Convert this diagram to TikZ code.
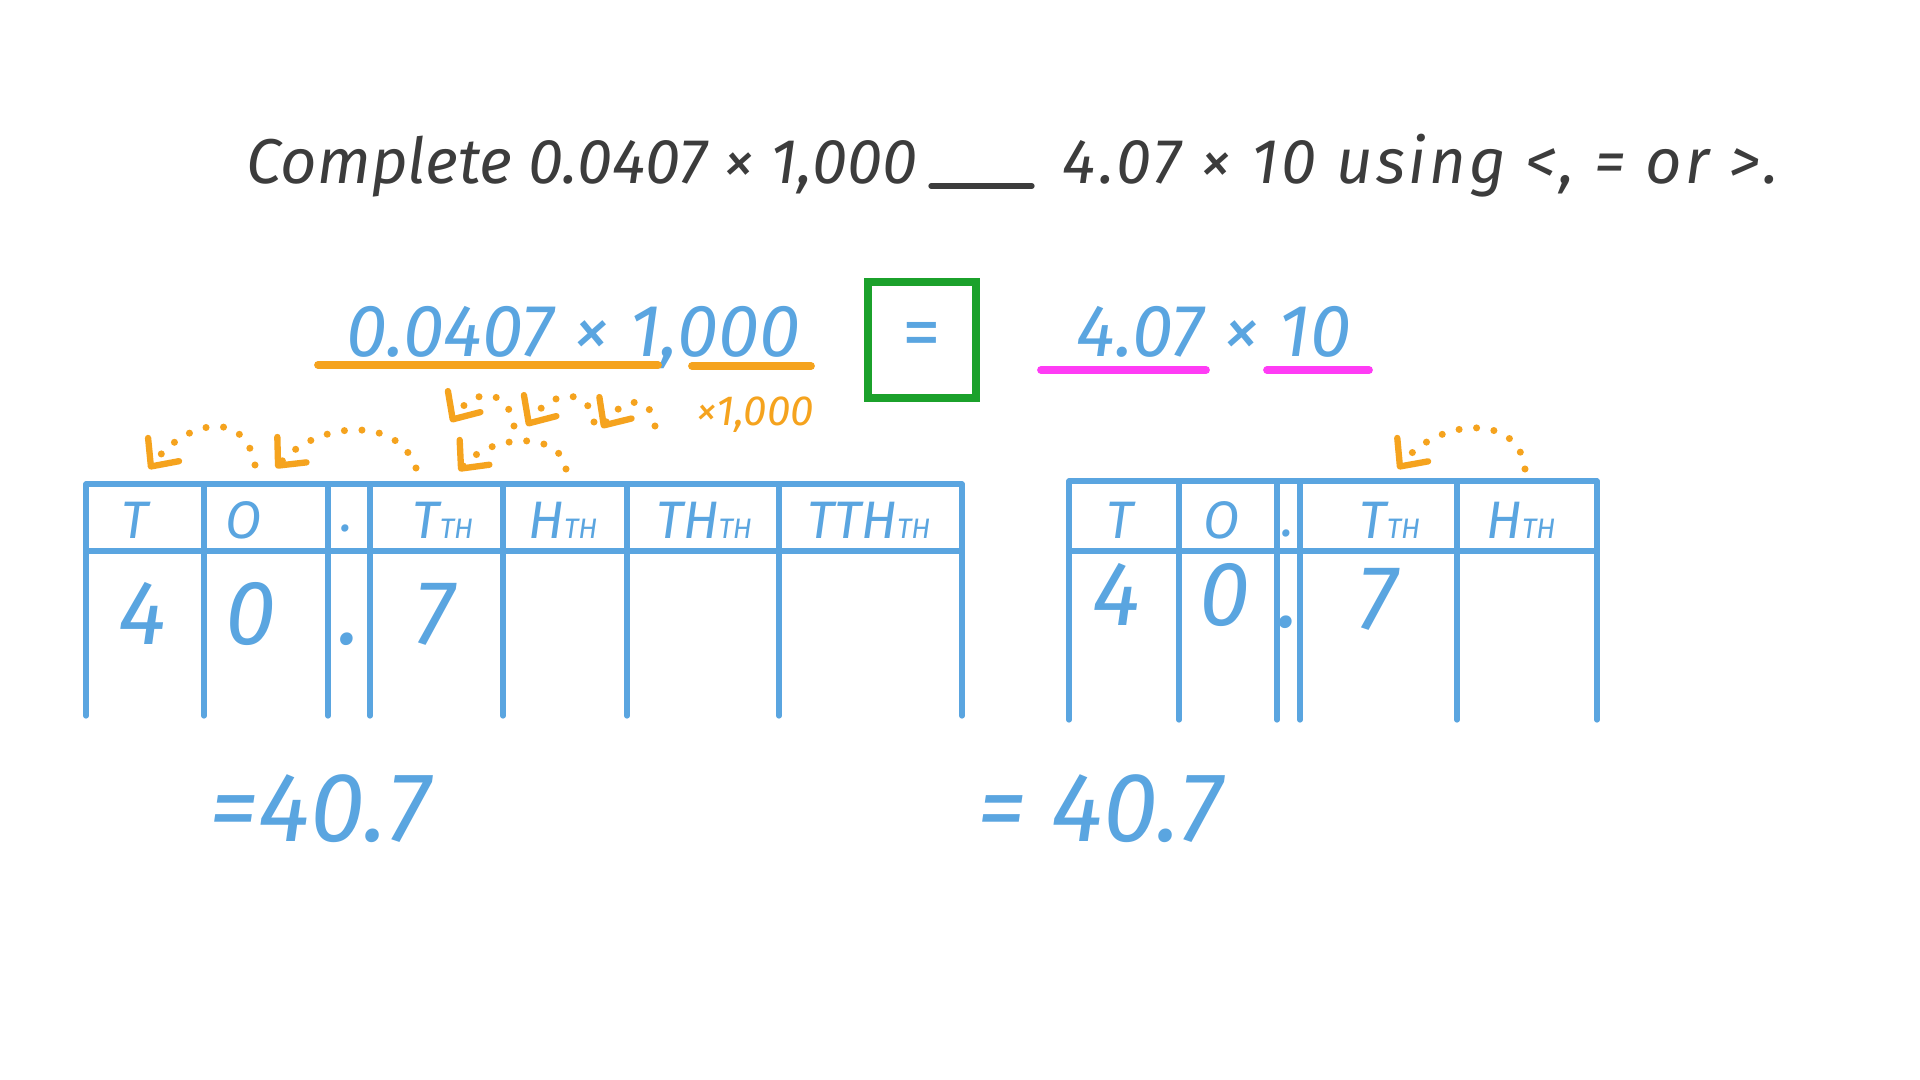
\documentclass[tikz,border=0pt]{standalone}
\usepackage{fontspec}
\setmainfont{Fira Sans}
\usetikzlibrary{arrows.meta}

\definecolor{penblue}{HTML}{5AA5E0}
\definecolor{penorange}{HTML}{F5A31E}
\definecolor{penpink}{HTML}{FF3CF5}
\definecolor{pengreen}{HTML}{1BA12B}
\definecolor{pengrey}{HTML}{3C3C3C}

\begin{document}
\begin{tikzpicture}[x=0.01cm,y=-0.01cm,line cap=round,
    tabline/.style={penblue,line width=1.5pt},
    uline/.style={line width=2.2pt},
    hop/.style={penorange,line width=2pt,dash pattern=on 0pt off 5pt,
      -{Straight Barb[length=6pt,width=11pt,line width=1.8pt,round]}},
    quest/.style={pengrey,font=\fontsize{18}{20}\selectfont\itshape,inner sep=0pt},
    calc/.style={penblue,font=\fontsize{21}{24}\selectfont\itshape,inner sep=0pt},
    head/.style={penblue,font=\fontsize{15}{17}\selectfont\itshape,inner sep=0pt},
    digit/.style={penblue,font=\fontsize{26}{28}\selectfont\itshape,inner sep=0pt},
    result/.style={penblue,font=\fontsize{28}{32}\selectfont\itshape,inner sep=0pt}]
  \useasboundingbox[fill=white] (0,0) rectangle (1920,1080);

  % question
  \node[quest,anchor=base east] (q1) at (918,184) {Complete 0.0407 × 1,000};
  \node[quest,anchor=base west] (q2) at (1062,184) {\addfontfeature{LetterSpace=5}4.07 × 10 using <, = or >.};
  \coordinate (bl) at (931,186);
  \coordinate (br) at (1032,186);
  \draw[pengrey,line width=1.5pt] (bl) -- (br);

  % both sides
  \node[calc,anchor=base] (lhs) at (573,357) {0.0407 × 1,000};
  \node[calc,anchor=base] (rhs) at (1214,357) {4.07 × 10};
  \node[draw=pengreen,line width=2.4pt,minimum width=1.08cm,minimum height=1.16cm,
    text=penblue,font=\fontsize{22}{24}\selectfont] (eqbox) at (922,340) {=};
  \draw[penorange,uline] (318,365) -- (658,365);
  \draw[penorange,uline] (692,366) -- (811,366);
  \draw[penpink,uline] (1041,370) -- (1206,370);
  \draw[penpink,uline] (1267,370) -- (1369,370);
  \node[penorange,font=\fontsize{12}{14}\selectfont\itshape,anchor=base] (times) at (755,426) {×1,000};

  % left place value table
  \foreach \x in {86,204,328,370,503,627,779,962}
    \draw[tabline] (\x,484) -- (\x,716);
  \draw[tabline] (86,484) -- (962,484);
  \draw[tabline] (86,551) -- (962,551);
  \node[head,anchor=base] (hT) at (135,539) {T};
  \node[head,anchor=base] (hO) at (244,539) {O};
  \node[head,anchor=base] (hDot) at (347,532) {.};
  \node[head,anchor=base] (hTth) at (443,539) {T{\footnotesize TH}};
  \node[head,anchor=base] (hHth) at (563,539) {H{\footnotesize TH}};
  \node[head,anchor=base] (hThth) at (704,539) {TH{\footnotesize TH}};
  \node[head,anchor=base] (hTThth) at (869,539) {TTH{\footnotesize TH}};
  \node[digit,anchor=base] (vFour) at (143,645) {4};
  \node[digit,anchor=base] (vZero) at (251,645) {0};
  \node[digit,anchor=base] (vDot) at (349,645) {.};
  \node[digit,anchor=base] (vSeven) at (435,645) {7};

  % right place value table
  \foreach \x in {1069,1179,1277,1300,1457,1597}
    \draw[tabline] (\x,481) -- (\x,720);
  \draw[tabline] (1069,481) -- (1597,481);
  \draw[tabline] (1069,551) -- (1597,551);
  \node[head,anchor=base] (rT) at (1120,539) {T};
  \node[head,anchor=base] (rO) at (1222,539) {O};
  \node[head,anchor=base] (rDot) at (1288,537) {.};
  \node[head,anchor=base] (rTth) at (1390,539) {T{\footnotesize TH}};
  \node[head,anchor=base] (rHth) at (1521,539) {H{\footnotesize TH}};
  \node[digit,anchor=base] (rFour) at (1117,626) {4};
  \node[digit,anchor=base] (rZero) at (1225,626) {0};
  \node[digit,anchor=base] (rDotv) at (1288,628) {.};
  \node[digit,anchor=base] (rSeven) at (1378,630) {7};

  % digit moves
  \coordinate (a1) at (514,426); \coordinate (b1) at (451,422);
  \coordinate (a2) at (594,422); \coordinate (b2) at (527,426);
  \coordinate (a3) at (655,426); \coordinate (b3) at (602,428);
  \coordinate (a4) at (255,465); \coordinate (b4) at (149,469);
  \coordinate (a5) at (416,468); \coordinate (b5) at (276,468);
  \coordinate (a6) at (566,469); \coordinate (b6) at (459,471);
  \coordinate (a7) at (1525,469); \coordinate (b7) at (1398,469);
  \draw[hop] (a1) .. controls +(-6,-40) and +(22,-34) .. (b1);
  \draw[hop] (a2) .. controls +(-6,-38) and +(22,-34) .. (b2);
  \draw[hop] (a3) .. controls +(-4,-34) and +(20,-30) .. (b3);
  \draw[hop] (a4) .. controls +(-10,-58) and +(36,-48) .. (b4);
  \draw[hop] (a5) .. controls +(-18,-54) and +(40,-46) .. (b5);
  \draw[hop] (a6) .. controls +(-6,-40) and +(30,-36) .. (b6);
  \draw[hop] (a7) .. controls +(-6,-58) and +(38,-50) .. (b7);

  % results
  \node[result,anchor=base] (resL) at (320,842) {=40.7};
  \node[result,anchor=base] (resR) at (1100,842) {= 40.7};
\end{tikzpicture}
\end{document}
